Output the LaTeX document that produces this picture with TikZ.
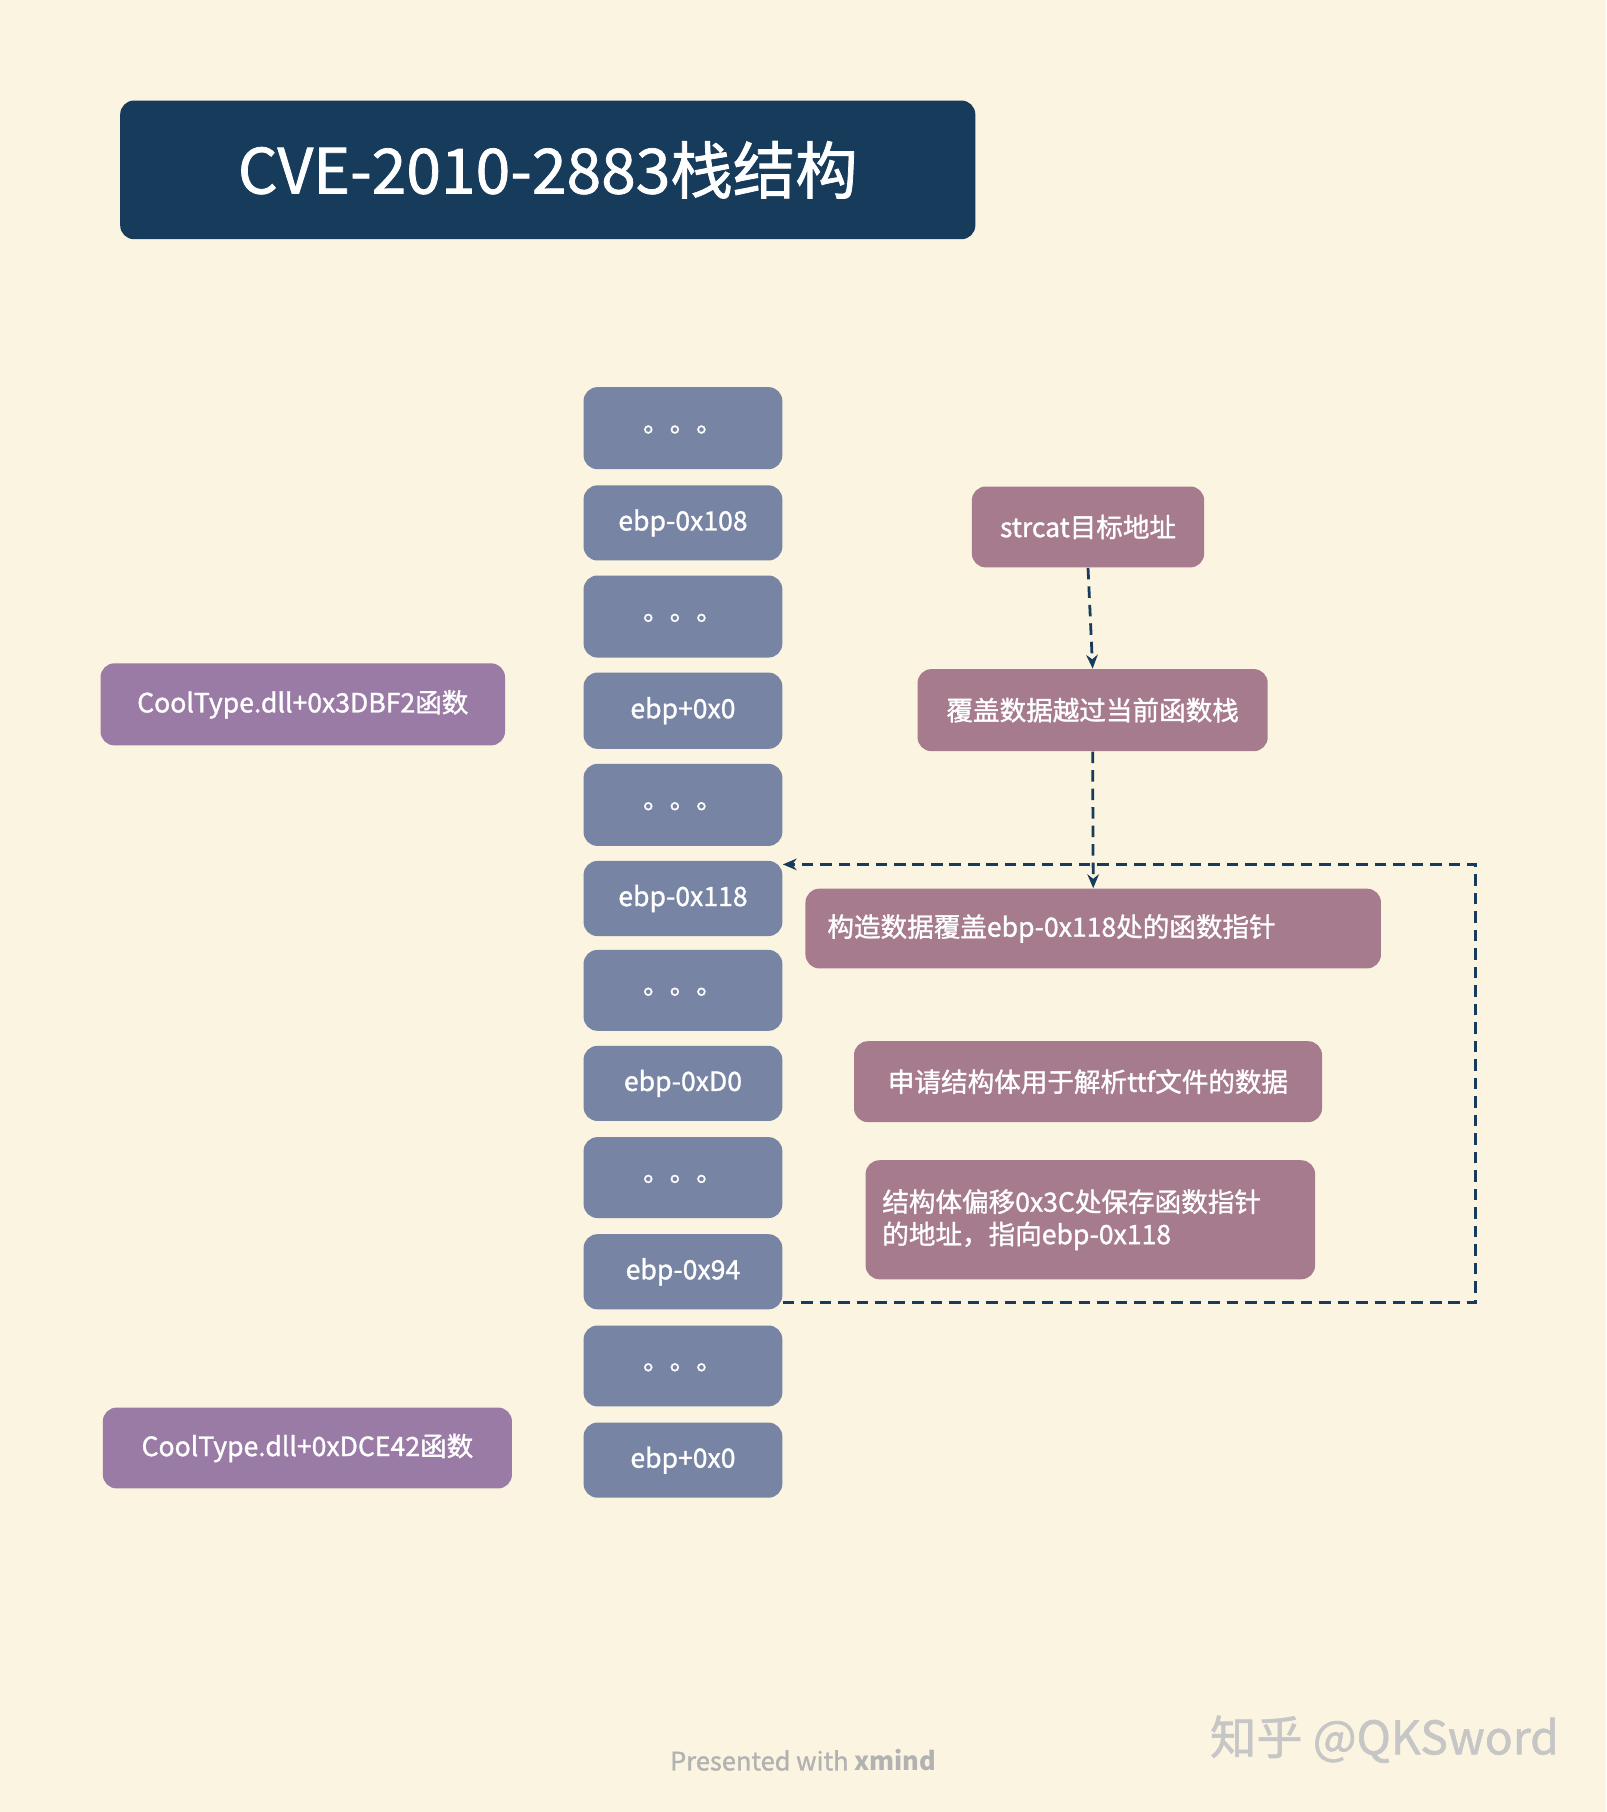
\documentclass[tikz,border=0pt]{standalone}
\usepackage{fontspec}
\setmainfont{Noto Sans CJK SC}[UprightFeatures={FakeBold=1.2}]
\usetikzlibrary{arrows.meta}
\definecolor{bg}{HTML}{FAF4E0}
\definecolor{navy}{HTML}{173B5A}
\definecolor{stk}{HTML}{7784A3}
\definecolor{lpur}{HTML}{9A7BA6}
\definecolor{rpur}{HTML}{A67B8E}
\tikzset{
 bx/.style={rounded corners=6pt,inner sep=0pt,text=white,font=\fontsize{11.5}{14}\selectfont},
 conn/.style={draw=navy,line width=1.2pt,dash pattern=on 5pt off 3pt,-{Stealth[length=6pt,width=5pt]}}
}
\newcommand\bx[7]{\node[bx,fill=#6,minimum width={(#4-#2)*0.5pt},minimum height={(#5-#3)*0.5pt}] (#1) at ({(#2+#4)/2},{(#3+#5)/2}) {#7};}
\newcommand\dd{\raisebox{-4pt}{。。。}}
\begin{document}
\begin{tikzpicture}[x=0.5pt,y=-0.5pt]
\fill[bg] (0,0) rectangle (1390,1568);
\useasboundingbox (0,0) rectangle (1390,1568);
\node[bx,fill=navy,minimum width=370pt,minimum height=60pt,font=\fontsize{27}{30}\selectfont] (title) at (474,147) {CVE-2010-2883栈结构};
\bx{s1}{505}{335}{677}{406}{stk}{\dd}
\bx{s2}{505}{420}{677}{485}{stk}{ebp-0x108}
\bx{s3}{505}{498}{677}{569}{stk}{\dd}
\bx{s4}{505}{582}{677}{648}{stk}{ebp+0x0}
\bx{s5}{505}{661}{677}{732}{stk}{\dd}
\bx{s6}{505}{745}{677}{810}{stk}{ebp-0x118}
\bx{s7}{505}{822}{677}{892}{stk}{\dd}
\bx{s8}{505}{905}{677}{970}{stk}{ebp-0xD0}
\bx{s9}{505}{984}{677}{1054}{stk}{\dd}
\bx{s10}{505}{1068}{677}{1133}{stk}{ebp-0x94}
\bx{s11}{505}{1147}{677}{1217}{stk}{\dd}
\bx{s12}{505}{1231}{677}{1296}{stk}{ebp+0x0}
\bx{l1}{87}{574}{437}{645}{lpur}{CoolType.dll+0x3DBF2函数}
\bx{l2}{89}{1218}{443}{1288}{lpur}{CoolType.dll+0xDCE42函数}
\bx{r1}{841}{421}{1042}{491}{rpur}{strcat目标地址}
\bx{r2}{794}{579}{1097}{650}{rpur}{覆盖数据越过当前函数栈}
\node[bx,fill=rpur,minimum width=249pt,minimum height=34.5pt,text width=230pt,align=left] (r3) at (946,803.5) {构造数据覆盖ebp-0x118处的函数指针};
\bx{r4}{739}{901}{1144}{971}{rpur}{申请结构体用于解析ttf文件的数据}
\node[bx,fill=rpur,minimum width=194.5pt,minimum height=51.5pt,text width=180pt,align=left] (r5) at (943.5,1055.5) {结构体偏移0x3C处保存函数指针\\的地址，指向ebp-0x118};
\draw[conn] (r1.south) -- (r2.north);
\draw[conn] (r2.south) -- (r3.north);
\coordinate (a1) at (s10.east |- 0,1127);
\coordinate (a2) at (1277,1127);
\coordinate (a3) at (1277,748);
\coordinate (a4) at (s6.east |- 0,748);
\draw[conn] (a1) -- (a2) -- (a3) -- (a4);
\node[text=gray!60,font=\fontsize{11}{13}\selectfont] (ft) at (695,1523) {Presented with \textbf{xmind}};
\node[text=gray!45,font=\fontsize{20}{24}\selectfont] (wm) at (1198,1505) {知乎 @QKSword};
\end{tikzpicture}
\end{document}
